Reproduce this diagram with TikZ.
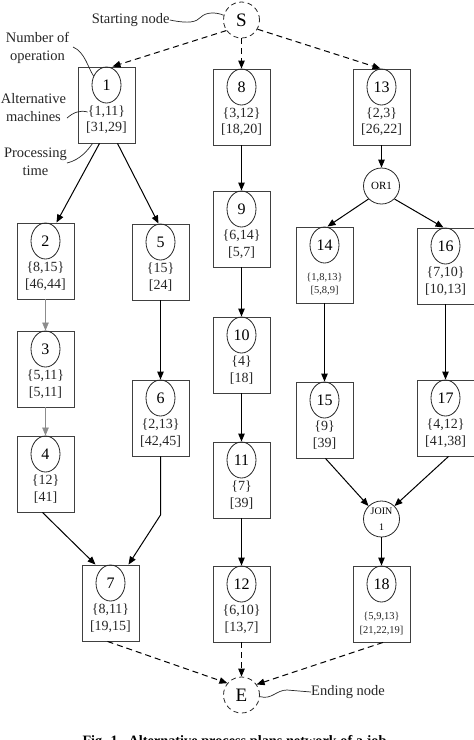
\documentclass[tikz,border=0pt]{standalone}
\usepackage{fontspec}
\setmainfont{Liberation Serif}
\usetikzlibrary{shapes.geometric,arrows.meta}

\newcommand\OpBox[9]{%
  \node[opbox] (b#1) at (#2,#3+38) {};
  \node[opnum] (n#1) at (#2,#3+18) {#4};
  \node[#7] (m#1) at (#2,#3+#8) {#5};
  \node[#7] (t#1) at (#2,#3+#9) {#6};
}

\begin{document}
\begin{tikzpicture}[x=1pt,y=-1pt,
  opbox/.style={draw=black!75, line width=0.9pt, minimum width=57pt, minimum height=76pt, inner sep=0pt},
  opnum/.style={draw=black!85, line width=0.8pt, ellipse, minimum width=29pt, minimum height=36pt, inner sep=0pt, font=\fontsize{16}{16}\selectfont},
  txt/.style={inner sep=0pt, text=black!85, font=\fontsize{14}{14}\selectfont},
  smalltxt/.style={inner sep=0pt, text=black!85, font=\fontsize{10.5}{10.5}\selectfont},
  ctrl/.style={draw=black!85, line width=0.8pt, circle, minimum size=36pt, inner sep=0pt},
  dnode/.style={ctrl, dashed, dash pattern=on 5pt off 3.5pt, font=\fontsize{19}{19}\selectfont},
  ann/.style={inner sep=0pt, align=center, text=black!85, font=\fontsize{14.5}{18}\selectfont},
  arr/.style={-{Triangle[length=8pt,width=6.5pt]}, line width=1pt, draw=black},
  thinarr/.style={arr, draw=black!45, line width=0.6pt},
  darr/.style={arr, dashed, dash pattern=on 6pt off 4pt},
  curve/.style={line width=0.7pt, draw=black!85}
]
\useasboundingbox (0,0) rectangle (474,740);
\clip (0,0) rectangle (474,740);

% start / end
\node[dnode] (s) at (241.5,20) {S};
\node[dnode] (e) at (241.5,695) {E};

% operations
\OpBox{1}{106.5}{67}{1}{\{1,11\}}{[31,29]}{txt}{45}{61}
\OpBox{2}{45.5}{223}{2}{\{8,15\}}{[46,44]}{txt}{45}{62}
\OpBox{3}{45.5}{331}{3}{\{5,11\}}{[5,11]}{txt}{45}{62}
\OpBox{4}{45.5}{436}{4}{\{12\}}{[41]}{txt}{45}{62}
\OpBox{5}{160.5}{224}{5}{\{15\}}{[24]}{txt}{45}{62}
\OpBox{6}{160.5}{380}{6}{\{2,13\}}{[42,45]}{txt}{45}{62}
\OpBox{7}{110.5}{565}{7}{\{8,11\}}{[19,15]}{txt}{45}{62}
\OpBox{8}{241.5}{69}{8}{\{3,12\}}{[18,20]}{txt}{45}{61}
\OpBox{9}{241.5}{191}{9}{\{6,14\}}{[5,7]}{txt}{45}{62}
\OpBox{10}{241.5}{317}{10}{\{4\}}{[18]}{txt}{45}{62}
\OpBox{11}{241.5}{442}{11}{\{7\}}{[39]}{txt}{45}{62}
\OpBox{12}{241.5}{566}{12}{\{6,10\}}{[13,7]}{txt}{45}{62}
\OpBox{13}{381.5}{69}{13}{\{2,3\}}{[26,22]}{txt}{45}{61}
\OpBox{14}{324.5}{227}{14}{\{1,8,13\}}{[5,8,9]}{smalltxt}{51}{64}
\OpBox{15}{324.5}{382}{15}{\{9\}}{[39]}{txt}{45}{62}
\OpBox{16}{445.5}{228}{16}{\{7,10\}}{[10,13]}{txt}{45}{62}
\OpBox{17}{445.5}{380}{17}{\{4,12\}}{[41,38]}{txt}{45}{62}
\OpBox{18}{381.5}{566}{18}{\{5,9,13\}}{[21,22,19]}{smalltxt}{51}{65}

% OR / JOIN
\node[ctrl, font=\fontsize{11}{11}\selectfont] (or) at (381.5,186) {OR1};
\node[ctrl, align=center, font=\fontsize{10}{16}\selectfont] (join) at (381.5,519) {JOIN\\1};

% dashed connectors
\draw[darr] (s.215) -- ([xshift=6pt]b1.north);
\draw[darr] (s.south) -- (b8.north);
\draw[darr] (s.-30) -- ([xshift=-1pt]b13.north);
\draw[darr] ([xshift=-3pt]b7.south) -- (e.140);
\draw[darr] (b12.south) -- (e.north);
\draw[darr] ([xshift=1.5pt]b18.south) -- (e.35);

% solid connectors
\draw[arr] ([xshift=-7pt]b1.south) -- ([xshift=11pt]b2.north);
\draw[arr] ([xshift=11pt]b1.south) -- ([xshift=-2pt]b5.north);
\draw[thinarr] (b2.south) -- (b3.north);
\draw[thinarr] (b3.south) -- (b4.north);
\draw[arr] (b5.south) -- (b6.north);
\draw[arr] ([xshift=-3pt]b4.south) -- ([xshift=-15pt]b7.north);
\coordinate (bend6) at (160.5,515);
\draw[arr] (b6.south) -- (bend6) -- ([xshift=18pt]b7.north);
\draw[arr] (b8.south) -- (b9.north);
\draw[arr] (b9.south) -- (b10.north);
\draw[arr] (b10.south) -- (b11.north);
\draw[arr] (b11.south) -- (b12.north);
\draw[arr] (b13.south) -- (or.north);
\draw[arr] (or.225) -- ([xshift=3pt]b14.north);
\draw[arr] (or.-45) -- ([xshift=-2pt]b16.north);
\draw[arr] (b14.south) -- (b15.north);
\draw[arr] (b16.south) -- (b17.north);
\draw[arr] ([xshift=1pt]b15.south) -- (join.135);
\draw[arr] ([xshift=3pt]b17.south) -- (join.45);
\draw[arr] (join.south) -- (b18.north);

% annotations
\node[ann] (lstart) at (130.7,20) {Starting node};
\node[ann] (lnum) at (37.5,48) {Number of\\operation};
\node[ann] (lalt) at (33.5,108) {Alternative\\machines};
\node[ann] (lproc) at (35.5,162) {Processing\\time};
\node[ann, anchor=west] (lend) at (311,692) {Ending node};

\draw[curve] (lstart.east) .. controls (190,24) and (196,22) .. (201,17)
             .. controls (206,12) and (216,12) .. (s.165);
\draw[curve] (73,47) .. controls (85,52) and (88,68) .. (n1.145);
\draw[curve] (67,118) .. controls (74,112) and (80,110) .. (m1.west);
\draw[curve] (67,163) .. controls (80,160) and (88,150) .. ([xshift=-14pt]b1.south);
\draw[curve] (e.-5) .. controls (272,700) and (276,690) .. (287,690) -- (lend.west);

% caption (cut at the bottom edge, as in the reference)
\node[inner sep=0pt, anchor=north, font=\bfseries\fontsize{14.3}{14.3}\selectfont] (cap) at (234.5,735)
  {Fig. 1.\ \ Alternative process plans network of a job};
\end{tikzpicture}
\end{document}
